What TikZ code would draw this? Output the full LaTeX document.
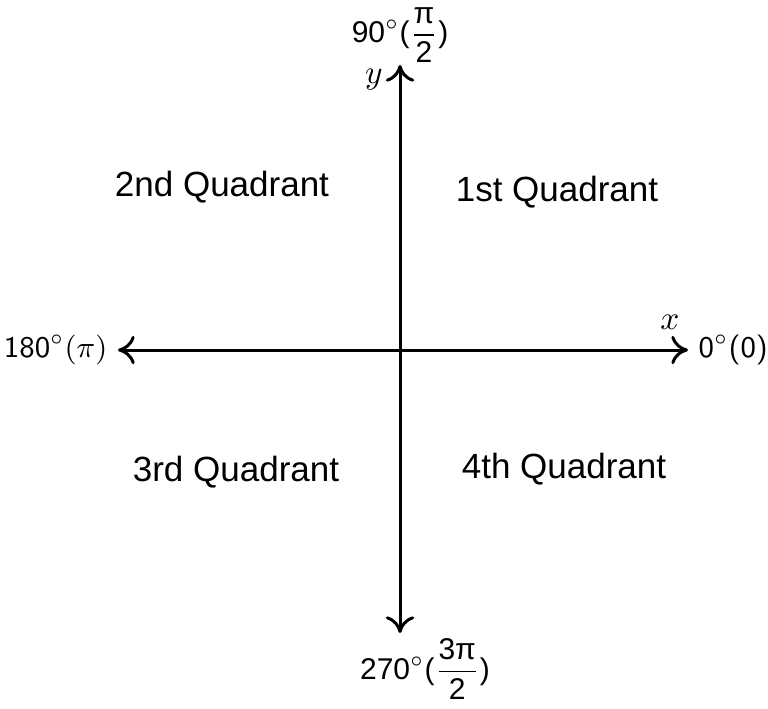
\documentclass[tikz,border=0pt]{standalone}
\usepackage{amsmath}
\usepackage{fontspec}
\setmainfont{Liberation Sans}
\usetikzlibrary{arrows.meta,positioning}

\tikzset{
  axis/.style={line width=0.9pt,{To[length=5pt,width=8.5pt]}-{To[length=5pt,width=8.5pt]}},
  quadrant/.style={font=\fontsize{10.5}{12}\selectfont},
  anglabel/.style={inner sep=3pt,font=\fontsize{9}{11}\selectfont}
}

\begin{document}
\begin{tikzpicture}[x=0.3pt,y=-0.3pt]
    \useasboundingbox (0,0) rectangle (768,708);

    % axes
    \coordinate (O) at (400,350);
    \coordinate (W) at (118,350);
    \coordinate (E) at (688,350);
    \coordinate (N) at (400,65);
    \coordinate (S) at (400,633);
    \draw[axis] (W) -- (E);
    \draw[axis] (S) -- (N);
    \node (xlab) at (670,322) {$x$};
    \node (ylab) at (374,80) {$y$};

    % angles
    \node[anglabel,anchor=west] (zero) at (E) {\textsf{0}$^\circ$\textsf{(0)}};
    \node[anglabel,anchor=east] (pi) at (W) {\textsf{180}$^\circ(\pi)$};
    \node[anglabel,inner sep=0pt] (halfpi) at (400,35) {90$^\circ$($\dfrac{\text{π}}{\text{2}}$)};
    \node[anglabel,inner sep=0pt] (threehalfpi) at (425,669) {270$^\circ$($\dfrac{\text{3π}}{\text{2}}$)};

    % quadrants
    \node[quadrant] (q1) at (557,192) {1st Quadrant};
    \node[quadrant] (q2) at (222,187) {2nd Quadrant};
    \node[quadrant] (q3) at (236,472) {3rd Quadrant};
    \node[quadrant] (q4) at (564,469) {4th Quadrant};
\end{tikzpicture}
\end{document}
